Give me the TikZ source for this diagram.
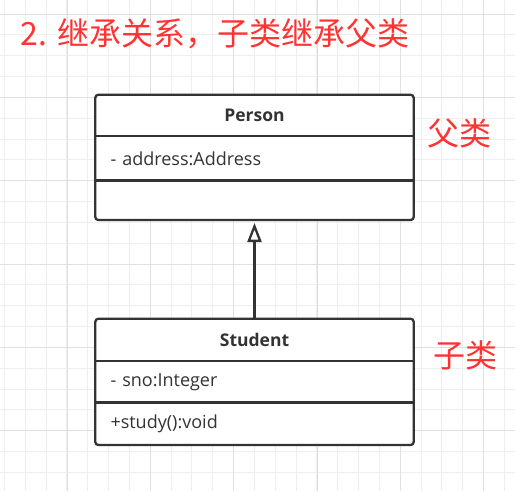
\documentclass[tikz,border=0pt]{standalone}
\usepackage{fontspec}
\setmainfont{Open Sans}
\newfontfamily\cjk{Noto Sans CJK SC}
\usetikzlibrary{positioning,arrows.meta}

\definecolor{umlline}{HTML}{333333}
\definecolor{umltext}{HTML}{333333}
\definecolor{notered}{HTML}{FF3333}
\definecolor{gridminor}{HTML}{EEEEEE}
\definecolor{gridmajor}{HTML}{E0E0E0}

\tikzset{
  classhead/.style={minimum width=318pt, inner sep=0pt, text=umltext,
    font=\bfseries\fontsize{17.5}{20}\selectfont},
  classpart/.style={minimum width=318pt, inner sep=0pt, text width=288pt,
    align=left, text=umltext, font=\fontsize{18}{21}\selectfont},
  classframe/.style={draw=umlline, line width=2.3pt, rounded corners=3pt},
  divider/.style={draw=umlline, line width=2.3pt},
  inherit/.style={draw=umlline, line width=2.3pt,
    -{Triangle[width=14pt, length=19pt, fill=white]}, shorten >=3pt},
  redlabel/.style={text=notered, inner sep=0pt, font=\cjk\fontsize{32}{36}\selectfont},
}

\begin{document}
\begin{tikzpicture}[x=1pt, y=-1pt]
 \useasboundingbox (0,0) rectangle (515,491);
 \fill[white] (0,0) rectangle (515,491);

 % grid
 \foreach \i in {0,...,24} {
   \draw[gridminor, line width=1pt] ({4.5+20.833*\i},0) -- ++(0,491);
   \draw[gridminor, line width=1pt] (0,{-6.8+20.833*\i}) -- ++(515,0);
 }
 \foreach \i in {0,...,5} {
   \draw[gridmajor, line width=1pt] ({67+83.333*\i},0) -- ++(0,491);
   \draw[gridmajor, line width=1pt] (0,{14+83.333*\i}) -- ++(515,0);
 }

 % Person
 \fill[white] (95,95) rectangle (414,219);
 \node[classhead, minimum height=41pt] (person) at (254.5,115.5) {Person};
 \node[classpart, minimum height=44pt, below=0pt of person] (personattr) {- address:Address};
 \node[classpart, minimum height=39pt, below=0pt of personattr] (personops) {};
 \draw[classframe] (person.north west) rectangle (personops.south east);
 \draw[divider] (person.south west) -- (person.south east);
 \draw[divider] (personattr.south west) -- (personattr.south east);

 % Student
 \fill[white] (95,319) rectangle (414,444);
 \node[classhead, minimum height=42pt] (student) at (254.5,340) {Student};
 \node[classpart, minimum height=41pt, below=0pt of student] (studentattr) {- sno:Integer};
 \node[classpart, minimum height=42pt, below=0pt of studentattr] (studentops) {+study():void};
 \draw[classframe] (student.north west) rectangle (studentops.south east);
 \draw[divider] (student.south west) -- (student.south east);
 \draw[divider] (studentattr.south west) -- (studentattr.south east);

 \draw[inherit] (student.north) -- (personops.south);

 % notes
 \node[redlabel] (title) at (215,34) {2. 继承关系，子类继承父类};
 \node[redlabel] (parentnote) at (459,133) {父类};
 \node[redlabel] (childnote) at (465,355) {子类};
\end{tikzpicture}
\end{document}
